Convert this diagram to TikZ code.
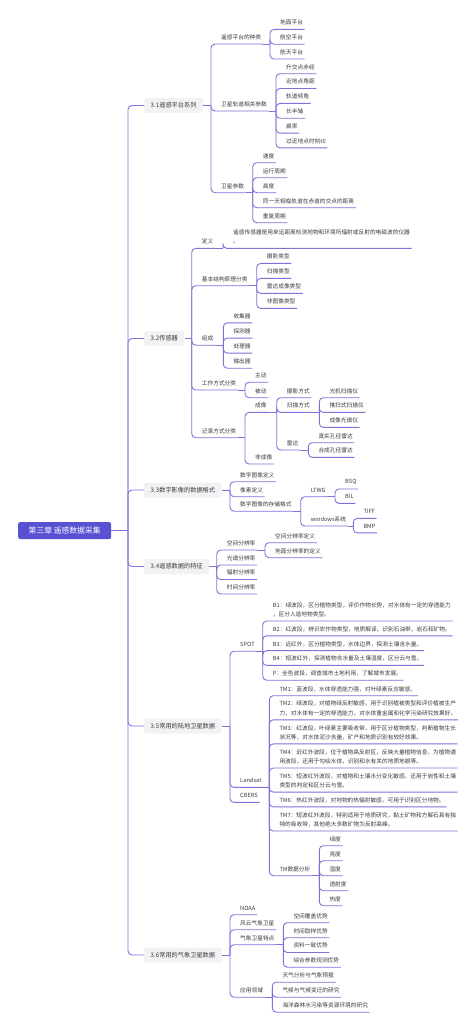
\documentclass[tikz,border=0pt]{standalone}
\usepackage{fontspec}
\setmainfont{Noto Sans CJK SC}
\usepackage{tikz}
\usetikzlibrary{
calc
}
\definecolor{MapIndigo}{HTML}{5A50D2}
\definecolor{MapLine}{HTML}{7D74DB}
\definecolor{MapGrey}{HTML}{F2F2F4}
\definecolor{MapText}{HTML}{3B3B3B}
\tikzset{
maproot/.style={fill=MapIndigo, text=white, rounded corners=2pt, anchor=west,
  inner xsep=10.5pt, inner ysep=0pt, minimum height=17pt, font=\fontsize{7.8}{9}\selectfont},
mapsec/.style={fill=MapGrey, text=MapText, rounded corners=2pt, anchor=west,
  inner xsep=6.5pt, inner ysep=0pt, minimum height=15pt, font=\fontsize{6.2}{7.5}\selectfont},
mapleaf/.style={text=MapText, anchor=west, inner xsep=1.5pt, inner ysep=0pt,
  minimum height=13pt, font=\fontsize{5.7}{9.3}\selectfont},
mapnote/.style={mapleaf, align=left, minimum height=22.3pt},
maplink/.style={draw=MapLine, line width=0.9pt, rounded corners=4pt}
}
% stub from a parent to its spine, and one twig per child
\newcommand{\mapstub}[2]{\draw[maplink] (#1) -- ($(#1 -| #2.south west)+(-8.5,0)$);}
\newcommand{\maptwig}[2]{\draw[maplink] ($(#1 -| #2.south west)+(-8.5,0)$) |- (#2.south west) -- (#2.south east);}
\newcommand{\mapbough}[2]{\draw[maplink] ($(#1 -| #2.west)+(-16,0)$) |- (#2.west);}

\begin{document}
\begin{tikzpicture}[x=1pt, y=-1pt]
\fill[white] (0,0) rectangle (474,1029);
\useasboundingbox (0,0) rectangle (474,1029);

% root and sections
\node[maproot] (root) at (18,530.5) {第三章 遥感数据采集};
\node[mapsec] (s31) at (144,105.5) {3.1遥感平台系列};
\node[mapsec] (s32) at (144,338.5) {3.2传感器};
\node[mapsec] (s33) at (144,490) {3.3数字影像的数据格式};
\node[mapsec] (s34) at (144,566.5) {3.4遥感数据的特征};
\node[mapsec] (s35) at (144,726) {3.5常用的陆地卫星数据};
\node[mapsec] (s36) at (144,955) {3.6常用的气象卫星数据};

% 3.1
\node[mapleaf] (pfKind) at (219.5,37.3) {遥感平台的种类};
\node[mapleaf] (pfGround) at (278.5,22.7) {地面平台};
\node[mapleaf] (pfAir) at (278.5,37.5) {航空平台};
\node[mapleaf] (pfSpace) at (278.5,52.3) {航天平台};
\node[mapleaf] (orbit) at (219.5,104.3) {卫星轨道相关参数};
\node[mapleaf] (orNode) at (284.5,67) {升交点赤经};
\node[mapleaf] (orPeri) at (284.5,81.8) {近地点角距};
\node[mapleaf] (orIncl) at (284.5,96.7) {轨道倾角};
\node[mapleaf] (orAxis) at (284.5,111.5) {长半轴};
\node[mapleaf] (orFlat) at (284.5,126.4) {扁率};
\node[mapleaf] (orTime) at (284.5,141.2) {过近地点时刻t0};
\node[mapleaf] (satPar) at (219.5,186) {卫星参数};
\node[mapleaf] (satSpeed) at (261.2,156) {速度};
\node[mapleaf] (satPeriod) at (261.2,171) {运行周期};
\node[mapleaf] (satHeight) at (261.2,186) {高度};
\node[mapleaf] (satDist) at (261.2,201) {同一天相临轨道在赤道的交点的距离};
\node[mapleaf] (satRepeat) at (261.2,216) {重复周期};

% 3.2
\node[mapleaf] (senDef) at (200.2,241.7) {定义};
\node[mapnote] (defText) at (231.5,237.05) {遥感传感器是用来远距离检测地物和环境所辐射或反射的电磁波的仪器\\。};
\node[mapleaf] (senBase) at (200.2,279) {基本结构原理分类};
\node[mapleaf] (bsPhoto) at (265.2,256.7) {摄影类型};
\node[mapleaf] (bsScan) at (265.2,271.7) {扫描类型};
\node[mapleaf] (bsRadar) at (265.2,286.7) {雷达成像类型};
\node[mapleaf] (bsNonImg) at (265.2,301.7) {非图像类型};
\node[mapleaf] (senComp) at (200.2,338.5) {组成};
\node[mapleaf] (cpCollect) at (231.8,316.2) {收集器};
\node[mapleaf] (cpDetect) at (231.8,331.4) {探测器};
\node[mapleaf] (cpProcess) at (231.8,346.4) {处理器};
\node[mapleaf] (cpOutput) at (231.8,361.5) {输出器};
\node[mapleaf] (senWork) at (200.2,383.3) {工作方式分类};
\node[mapleaf] (wkActive) at (253.5,375.5) {主动};
\node[mapleaf] (wkPassive) at (253.5,391) {被动};
\node[mapleaf] (senRec) at (200.2,431) {记录方式分类};
\node[mapleaf] (rcImg) at (253.5,405.7) {成像};
\node[mapleaf] (imPhoto) at (285.2,391) {摄影方式};
\node[mapleaf] (imScan) at (285.2,405.7) {扫描方式};
\node[mapleaf] (scOpt) at (327.8,391) {光机扫描仪};
\node[mapleaf] (scPush) at (327.8,405.7) {推扫式扫描仪};
\node[mapleaf] (scSpec) at (327.8,420.7) {成像光谱仪};
\node[mapleaf] (imRadar) at (285.2,443.3) {雷达};
\node[mapleaf] (rdReal) at (316.8,436) {真实孔径雷达};
\node[mapleaf] (rdSynth) at (316.8,450.7) {合成孔径雷达};
\node[mapleaf] (rcNonImg) at (253.5,457.3) {非成像};

% 3.3
\node[mapleaf] (fmDef) at (238.5,475) {数字图像定义};
\node[mapleaf] (fmPixel) at (238.5,490) {像素定义};
\node[mapleaf] (fmStore) at (238.5,504.5) {数字图像的存储格式};
\node[mapleaf] (stLtwg) at (309.2,490) {LTWG};
\node[mapleaf] (ltBsq) at (343.5,482.3) {BSQ};
\node[mapleaf] (ltBil) at (343.5,496.7) {BIL};
\node[mapleaf] (stWin) at (309.2,519.3) {windows系统};
\node[mapleaf] (wnTiff) at (361.8,511.7) {TIFF};
\node[mapleaf] (wnBmp) at (361.8,526.2) {BMP};

% 3.4
\node[mapleaf] (rsSpace) at (225.2,543.3) {空间分辨率};
\node[mapleaf] (srDef) at (273.5,536) {空间分辨率定义};
\node[mapleaf] (srGround) at (273.5,551) {地面分辨率的定义};
\node[mapleaf] (rsSpec) at (225.2,558.3) {光谱分辨率};
\node[mapleaf] (rsRadio) at (225.2,572.8) {辐射分辨率};
\node[mapleaf] (rsTime) at (225.2,587.3) {时间分辨率};

% 3.5
\node[mapleaf] (spot) at (238.5,644.5) {SPOT};
\node[mapnote] (spotB1) at (271.2,609.65) {B1：绿波段，区分植物类型，评价作物长势，对水体有一定的穿透能力\\，区分人造地物类型。};
\node[mapleaf] (spotB2) at (271.2,629.1) {B2：红波段，辨识农作物类型，地质解译，识别石油带，岩石和矿物。};
\node[mapleaf] (spotB3) at (271.2,643.9) {B3：近红外，区分植物类型，水体边界，探测土壤含水量。};
\node[mapleaf] (spotB4) at (271.2,658.7) {B4：短波红外，探测植物含水量及土壤湿度，区分云与雪。};
\node[mapleaf] (spotP) at (271.2,673.5) {P：全色波段，调查城市土地利用，了解城市发展。};
\node[mapleaf] (land) at (238.5,780.7) {Landsat};
\node[mapleaf] (cbers) at (238.5,795.7) {CBERS};
\node[mapleaf] (tm1) at (277.8,689) {TM1：蓝波段，水体穿透能力强，对叶绿素反应敏感。};
\node[mapnote] (tm2) at (277.8,708.45) {TM2：绿波段，对植物绿反射敏感，用于识别植被类型和评价植被生产\\力，对水体有一定的穿透能力，对水体重金属和化学污染研究效果好。};
\node[mapnote] (tm3) at (277.8,732.55) {TM3：红波段，叶绿素主要吸收带，用于区分植物类型，判断植物生长\\状况等，对水体泥沙含量，矿产和地质识别有较好效果。};
\node[mapnote] (tm4) at (277.8,756.65) {TM4：近红外波段，位于植物高反射区，反映大量植物信息，为植物通\\用波段，还用于勾绘水体，识别和水有关的地质地貌等。};
\node[mapnote] (tm5) at (277.8,780.75) {TM5：短波红外波段，对植物和土壤水分变化敏感，还用于岩性和土壤\\类型的判定和区分云与雪。};
\node[mapleaf] (tm6) at (277.8,800.2) {TM6：热红外波段，对地物的热辐射敏感，可用于识别区分地物。};
\node[mapnote] (tm7) at (277.8,819.65) {TM7：短波红外波段，特别适用于地质研究，黏土矿物和方解石具有独\\特的吸收带，其他绝大多数矿物为反射高峰。};
\node[mapleaf] (tmAna) at (277.8,869) {TM数据分析};
\node[mapleaf] (anGreen) at (327.8,839) {绿度};
\node[mapleaf] (anBright) at (327.8,854) {亮度};
\node[mapleaf] (anWet) at (327.8,869) {湿度};
\node[mapleaf] (anTrans) at (327.8,884) {透射度};
\node[mapleaf] (anHeat) at (327.8,899) {热度};

% 3.6
\node[mapleaf] (noaa) at (238.5,908) {NOAA};
\node[mapleaf] (fengyun) at (238.5,923) {风云气象卫星};
\node[mapleaf] (wsFeat) at (238.5,938) {气象卫星特点};
\node[mapleaf] (ftSpace) at (291.8,916) {空间覆盖优势};
\node[mapleaf] (ftTime) at (291.8,931) {时间取样优势};
\node[mapleaf] (ftSame) at (291.8,945.8) {资料一致优势};
\node[mapleaf] (ftMulti) at (291.8,960.5) {综合参数观测优势};
\node[mapleaf] (wsUse) at (238.5,990.5) {应用领域};
\node[mapleaf] (useWeather) at (280.8,975.5) {天气分析与气象预报};
\node[mapleaf] (useClimate) at (280.8,990.5) {气候与气候变迁的研究};
\node[mapleaf] (useOcean) at (280.8,1005.5) {海洋森林水污染等资源环境的研究};

% root branches
\draw[maplink] (root.east) -- ($(root.east -| s31.west)+(-16,0)$);
\mapbough{root.east}{s31}
\mapbough{root.east}{s32}
\mapbough{root.east}{s33}
\mapbough{root.east}{s34}
\mapbough{root.east}{s35}
\mapbough{root.east}{s36}

% 3.1 branches
\mapstub{s31.east}{pfKind}
\maptwig{s31.east}{pfKind}
\maptwig{s31.east}{orbit}
\maptwig{s31.east}{satPar}
\mapstub{pfKind.south east}{pfGround}
\maptwig{pfKind.south east}{pfGround}
\maptwig{pfKind.south east}{pfAir}
\maptwig{pfKind.south east}{pfSpace}
\mapstub{orbit.south east}{orNode}
\maptwig{orbit.south east}{orNode}
\maptwig{orbit.south east}{orPeri}
\maptwig{orbit.south east}{orIncl}
\maptwig{orbit.south east}{orAxis}
\maptwig{orbit.south east}{orFlat}
\maptwig{orbit.south east}{orTime}
\mapstub{satPar.south east}{satSpeed}
\maptwig{satPar.south east}{satSpeed}
\maptwig{satPar.south east}{satPeriod}
\maptwig{satPar.south east}{satHeight}
\maptwig{satPar.south east}{satDist}
\maptwig{satPar.south east}{satRepeat}

% 3.2 branches
\mapstub{s32.east}{senDef}
\maptwig{s32.east}{senDef}
\maptwig{s32.east}{senBase}
\maptwig{s32.east}{senComp}
\maptwig{s32.east}{senWork}
\maptwig{s32.east}{senRec}
\mapstub{senDef.south east}{defText}
\maptwig{senDef.south east}{defText}
\mapstub{senBase.south east}{bsPhoto}
\maptwig{senBase.south east}{bsPhoto}
\maptwig{senBase.south east}{bsScan}
\maptwig{senBase.south east}{bsRadar}
\maptwig{senBase.south east}{bsNonImg}
\mapstub{senComp.south east}{cpCollect}
\maptwig{senComp.south east}{cpCollect}
\maptwig{senComp.south east}{cpDetect}
\maptwig{senComp.south east}{cpProcess}
\maptwig{senComp.south east}{cpOutput}
\mapstub{senWork.south east}{wkActive}
\maptwig{senWork.south east}{wkActive}
\maptwig{senWork.south east}{wkPassive}
\mapstub{senRec.south east}{rcImg}
\maptwig{senRec.south east}{rcImg}
\maptwig{senRec.south east}{rcNonImg}
\mapstub{rcImg.south east}{imPhoto}
\maptwig{rcImg.south east}{imPhoto}
\maptwig{rcImg.south east}{imScan}
\maptwig{rcImg.south east}{imRadar}
\mapstub{imScan.south east}{scOpt}
\maptwig{imScan.south east}{scOpt}
\maptwig{imScan.south east}{scPush}
\maptwig{imScan.south east}{scSpec}
\mapstub{imRadar.south east}{rdReal}
\maptwig{imRadar.south east}{rdReal}
\maptwig{imRadar.south east}{rdSynth}

% 3.3 branches
\mapstub{s33.east}{fmDef}
\maptwig{s33.east}{fmDef}
\maptwig{s33.east}{fmPixel}
\maptwig{s33.east}{fmStore}
\mapstub{fmStore.south east}{stLtwg}
\maptwig{fmStore.south east}{stLtwg}
\maptwig{fmStore.south east}{stWin}
\mapstub{stLtwg.south east}{ltBsq}
\maptwig{stLtwg.south east}{ltBsq}
\maptwig{stLtwg.south east}{ltBil}
\mapstub{stWin.south east}{wnTiff}
\maptwig{stWin.south east}{wnTiff}
\maptwig{stWin.south east}{wnBmp}

% 3.4 branches
\mapstub{s34.east}{rsSpace}
\maptwig{s34.east}{rsSpace}
\maptwig{s34.east}{rsSpec}
\maptwig{s34.east}{rsRadio}
\maptwig{s34.east}{rsTime}
\mapstub{rsSpace.south east}{srDef}
\maptwig{rsSpace.south east}{srDef}
\maptwig{rsSpace.south east}{srGround}

% 3.5 branches
\mapstub{s35.east}{spot}
\maptwig{s35.east}{spot}
\maptwig{s35.east}{land}
\maptwig{s35.east}{cbers}
\mapstub{spot.south east}{spotB1}
\maptwig{spot.south east}{spotB1}
\maptwig{spot.south east}{spotB2}
\maptwig{spot.south east}{spotB3}
\maptwig{spot.south east}{spotB4}
\maptwig{spot.south east}{spotP}
\mapstub{land.south east}{tm1}
\maptwig{land.south east}{tm1}
\maptwig{land.south east}{tm2}
\maptwig{land.south east}{tm3}
\maptwig{land.south east}{tm4}
\maptwig{land.south east}{tm5}
\maptwig{land.south east}{tm6}
\maptwig{land.south east}{tm7}
\maptwig{land.south east}{tmAna}
\mapstub{tmAna.south east}{anGreen}
\maptwig{tmAna.south east}{anGreen}
\maptwig{tmAna.south east}{anBright}
\maptwig{tmAna.south east}{anWet}
\maptwig{tmAna.south east}{anTrans}
\maptwig{tmAna.south east}{anHeat}

% 3.6 branches
\mapstub{s36.east}{noaa}
\maptwig{s36.east}{noaa}
\maptwig{s36.east}{fengyun}
\maptwig{s36.east}{wsFeat}
\maptwig{s36.east}{wsUse}
\mapstub{wsFeat.south east}{ftSpace}
\maptwig{wsFeat.south east}{ftSpace}
\maptwig{wsFeat.south east}{ftTime}
\maptwig{wsFeat.south east}{ftSame}
\maptwig{wsFeat.south east}{ftMulti}
\mapstub{wsUse.south east}{useWeather}
\maptwig{wsUse.south east}{useWeather}
\maptwig{wsUse.south east}{useClimate}
\maptwig{wsUse.south east}{useOcean}
\end{tikzpicture}
\end{document}
